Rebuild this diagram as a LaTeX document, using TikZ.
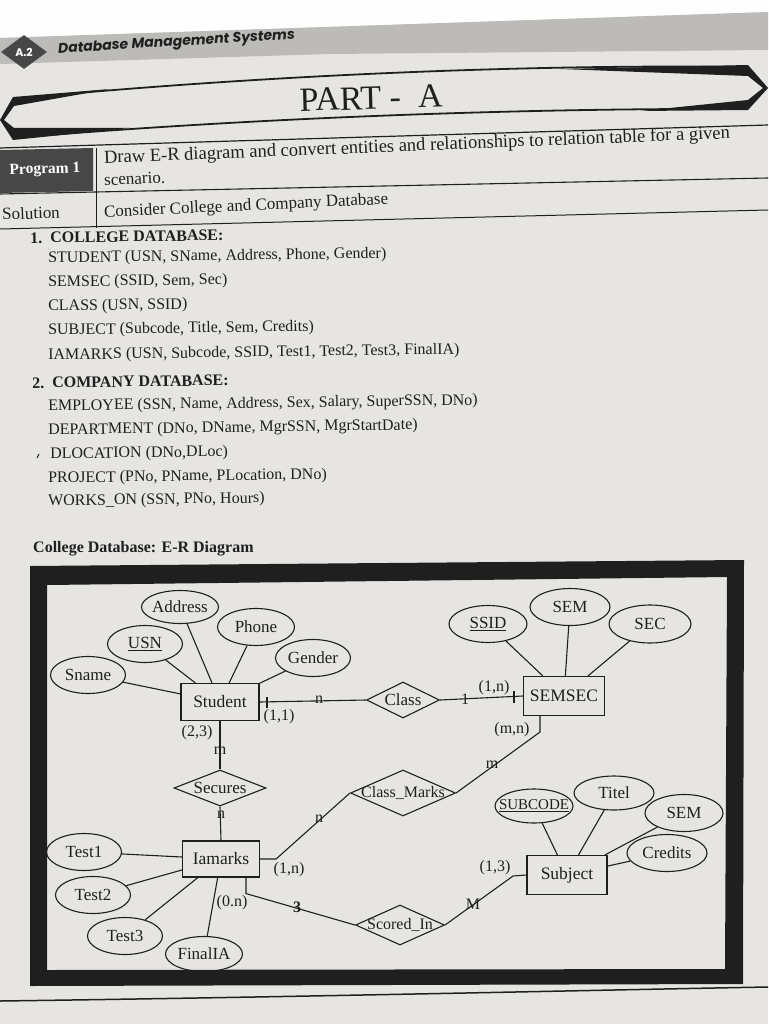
\documentclass[tikz,border=0pt]{standalone}
\usepackage{fontspec}
\setmainfont{Liberation Serif}
\newfontfamily\hdrfont{Poppins}
\usetikzlibrary{shapes.geometric}
\definecolor{paper}{HTML}{E7E5E2}
\definecolor{ink}{HTML}{1F1F1F}
\definecolor{bandgray}{HTML}{BDBBB8}
\definecolor{boxgray}{HTML}{474747}
\begin{document}
\begin{tikzpicture}[x=1pt,y=-1pt,
  txt/.style={anchor=west, inner sep=0, rotate=0.8, text=ink, font=\fontsize{16}{18}\selectfont},
  btxt/.style={txt, font=\fontsize{16}{18}\selectfont\bfseries},
  ttxt/.style={txt, rotate=1.5, font=\fontsize{17}{19}\selectfont},
  ent/.style={rectangle, draw=ink, line width=1.1, minimum width=78, minimum height=37, inner sep=0, text=ink, font=\fontsize{17.5}{19}\selectfont},
  attr/.style={ellipse, draw=ink, line width=1.1, minimum width=78, minimum height=36, inner sep=0},
  rel/.style={diamond, draw=ink, line width=1.1, inner sep=0},
  lab/.style={inner sep=0, text=ink, font=\fontsize{17}{19}\selectfont},
  card/.style={inner sep=0, text=ink, font=\fontsize{16}{18}\selectfont},
  conn/.style={draw=ink, line width=1.1}
]
\useasboundingbox (0,0) rectangle (768,1024);
\fill[paper] (0,0) rectangle (768,1024);
% top photo band
\fill[white!96!paper] (0,0) -- (768,0) -- (768,12) -- (0,38) -- cycle;
\fill[bandgray] (0,38) -- (768,12) -- (768,50) -- (330,54) -- (0,64) -- cycle;

% header
\node[diamond, fill=boxgray, minimum width=46, minimum height=34, inner sep=0,
      label={[text=white, font=\hdrfont\bfseries\fontsize{11}{12}\selectfont]center:A.2}] (badge) at (24,52) {};
\node[anchor=west, inner sep=0, rotate=3.5, text=ink,
      font=\hdrfont\bfseries\itshape\fontsize{14}{16}\selectfont] (hdr) at (58,50) {Database Management Systems};

% banner
\draw[ink, line width=1.8] (13,99) .. controls (250,76) and (520,64) .. (748,67);
\draw[ink, line width=1.8] (13,138) .. controls (250,118) and (520,108) .. (748,109);
\fill[ink] (0,120) -- (13,97) -- (110,89) -- (14,106) -- (4,120) -- cycle;
\fill[ink] (0,120) -- (13,140) -- (130,128) -- (14,128) -- (4,120) -- cycle;
\fill[ink] (768,88) -- (748,65) -- (560,69) -- (748,76) -- (763,88) -- cycle;
\fill[ink] (768,88) -- (748,110) -- (640,111) -- (748,100) -- (763,88) -- cycle;
\node[inner sep=0, rotate=1.5, text=ink, font=\fontsize{34}{36}\selectfont] (part) at (371,98) {PART -\ \ A};

% program table
\fill[boxgray] (0,150) -- (93,148) -- (93,191) -- (0,193) -- cycle;
\node[inner sep=0, rotate=1.5, text=white, font=\fontsize{15.5}{17}\selectfont\bfseries] (prog) at (45,170) {Program 1};
\draw[ink, line width=1.2] (0,148) -- (768,125);
\draw[ink, line width=1.1] (0,194) -- (768,178);
\draw[ink, line width=1.0] (0,229) -- (768,210);
\draw[ink, line width=1.0] (96,148) -- (96,228);
\node[ttxt, font=\fontsize{18.5}{20}\selectfont] (draw) at (104,159) {Draw E-R diagram and convert entities and relationships to relation table for a given};
\node[ttxt] (scen) at (104,180) {scenario.};
\node[ttxt, rotate=-0.3] (sol) at (2,214) {Solution};
\node[ttxt, rotate=0.3] (cons) at (104,213) {Consider College and Company Database};

% list
\node[btxt] (h1) at (30,238) {1.\ \ COLLEGE DATABASE:};
\node[txt] (l1) at (48,259) {STUDENT (USN, SName, Address, Phone, Gender)};
\node[txt] (l2) at (48,283) {SEMSEC (SSID, Sem, Sec)};
\node[txt] (l3) at (48,307) {CLASS (USN, SSID)};
\node[txt] (l4) at (48,331) {SUBJECT (Subcode, Title, Sem, Credits)};
\node[txt] (l5) at (48,356) {IAMARKS (USN, Subcode, SSID, Test1, Test2, Test3, FinalIA)};
\node[btxt] (h2) at (32,383) {2.\ \ COMPANY DATABASE:};
\node[txt] (m1) at (48,407) {EMPLOYEE (SSN, Name, Address, Sex, Salary, SuperSSN, DNo)};
\node[txt] (m2) at (48,431) {DEPARTMENT (DNo, DName, MgrSSN, MgrStartDate)};
\draw[ink, line width=1] (37,458) -- (39,454);
\node[txt] (m3) at (50,455) {DLOCATION (DNo,DLoc)};
\node[txt] (m4) at (48,479) {PROJECT (PNo, PName, PLocation, DNo)};
\node[txt] (m5) at (48,502) {WORKS\_ON (SSN, PNo, Hours)};
\node[btxt, rotate=-0.6] (cap) at (33,549) {College Database: E-R Diagram};

% frame
\fill[ink, even odd rule] (30,566) -- (744,560) -- (743,984) -- (30,986) -- cycle
   (47,585) -- (727,577) -- (725,969) -- (47,970) -- cycle;
\draw[ink, line width=1.5] (0,1001) .. controls (300,997) and (600,990) .. (768,987);

% entities
\node[ent] (stud) at (220,702) {Student};
\node[ent, minimum width=81, minimum height=39] (semsec) at (564,696) {SEMSEC};
\node[ent, minimum width=77, minimum height=36] (iam) at (221,859) {Iamarks};
\node[ent, minimum width=80, minimum height=39] (subj) at (567,875) {Subject};

% relationships
\node[rel, minimum width=73, minimum height=36, label={[lab]center:Class}] (cls) at (403,700) {};
\node[rel, minimum width=92, minimum height=36, label={[lab]center:Secures}] (secu) at (220,788) {};
\node[rel, minimum width=105, minimum height=46, label={[lab, font=\fontsize{16}{18}\selectfont]center:Class\_Marks}] (cm) at (403,793) {};
\node[rel, minimum width=89, minimum height=40, label={[lab, font=\fontsize{16}{18}\selectfont]center:Scored\_In}] (sco) at (400,925) {};

% attributes
\node[attr, minimum width=77, minimum height=33, label={[lab]center:Address}] (addr) at (180,607) {};
\node[attr, minimum width=75, minimum height=37, label={[lab]center:\underline{USN}}] (usn) at (145,644) {};
\node[attr, minimum width=77, minimum height=37, label={[lab]center:Phone}] (phone) at (256,627) {};
\node[attr, minimum width=75, minimum height=37, label={[lab]center:Gender}] (gend) at (313,658) {};
\node[attr, minimum width=75, minimum height=37, label={[lab]center:Sname}] (sname) at (88,675) {};
\node[attr, minimum width=78, minimum height=37, label={[lab]center:\underline{SSID}}] (ssid) at (488,624) {};
\node[attr, minimum width=80, minimum height=37, label={[lab]center:SEM}] (sem1) at (570,607) {};
\node[attr, minimum width=82, minimum height=38, label={[lab]center:SEC}] (sec) at (650,624) {};
\node[attr, minimum width=75, minimum height=37, label={[lab]center:Test1}] (t1) at (84,852) {};
\node[attr, minimum width=75, minimum height=37, label={[lab]center:Test2}] (t2) at (93,895) {};
\node[attr, minimum width=75, minimum height=37, label={[lab]center:Test3}] (t3) at (125,936) {};
\node[attr, minimum width=77, minimum height=35, label={[lab]center:FinalIA}] (fia) at (204,954) {};
\node[attr, minimum width=78, minimum height=34, label={[lab, font=\fontsize{15}{17}\selectfont]center:\underline{SUBCODE}}] (subc) at (534,806) {};
\node[attr, minimum width=80, minimum height=34, label={[lab]center:Titel}] (titel) at (614,793) {};
\node[attr, minimum width=78, minimum height=37, label={[lab]center:SEM}] (sem2) at (684,813) {};
\node[attr, minimum width=80, minimum height=37, label={[lab]center:Credits}] (cred) at (667,853) {};

% attribute links
\foreach \a in {addr,usn,phone,gend,sname} \draw[conn] (\a) -- (stud);
\foreach \a in {ssid,sem1,sec} \draw[conn] (\a) -- (semsec);
\foreach \a in {t1,t2,t3,fia} \draw[conn] (\a) -- (iam);
\foreach \a in {subc,titel,sem2,cred} \draw[conn] (\a) -- (subj);

% relationship links
\draw[conn] (stud.east) -- (cls.west);
\draw[conn] (cls.east) -- (semsec.west);
\draw[conn] (stud.south) -- (secu.north);
\draw[conn] (secu.south) -- (iam.north);
\draw[conn] (iam.east) -- ++(16,0) -- (cm.west);
\draw[conn] (semsec.south) ++(-24,0) -- ++(0,16) -- (cm.east);
\draw[conn] (iam.south) ++(25,0) -- ++(0,16) -- (sco.west);
\draw[conn] (sco.east) -- ++(68,-49) -- (subj.west);
% ticks
\draw[conn] (267,697) -- (267,708);
\draw[conn] (514,691) -- (514,703);

% cardinalities
\node[card] (k11) at (279,717) {(1,1)};
\node[card] (kn1) at (319,700) {n};
\node[card] (k1) at (465,699) {1};
\node[card] (k1n) at (494,688) {(1,n)};
\node[card] (k23) at (197,733) {(2,3)};
\node[card] (km1) at (220,751) {m};
\node[card] (kn2) at (221,815) {n};
\node[card] (kmn) at (512,730) {(m,n)};
\node[card] (km2) at (492,765) {m};
\node[card] (kn3) at (319,819) {n};
\node[card] (k1n2) at (289,870) {(1,n)};
\node[card] (k0n) at (232,903) {(0.n)};
\node[card, font=\fontsize{16}{18}\selectfont\bfseries] (k3) at (297,907) {3};
\node[card] (kM) at (473,904) {M};
\node[card] (k13) at (495,868) {(1,3)};
\end{tikzpicture}
\end{document}
